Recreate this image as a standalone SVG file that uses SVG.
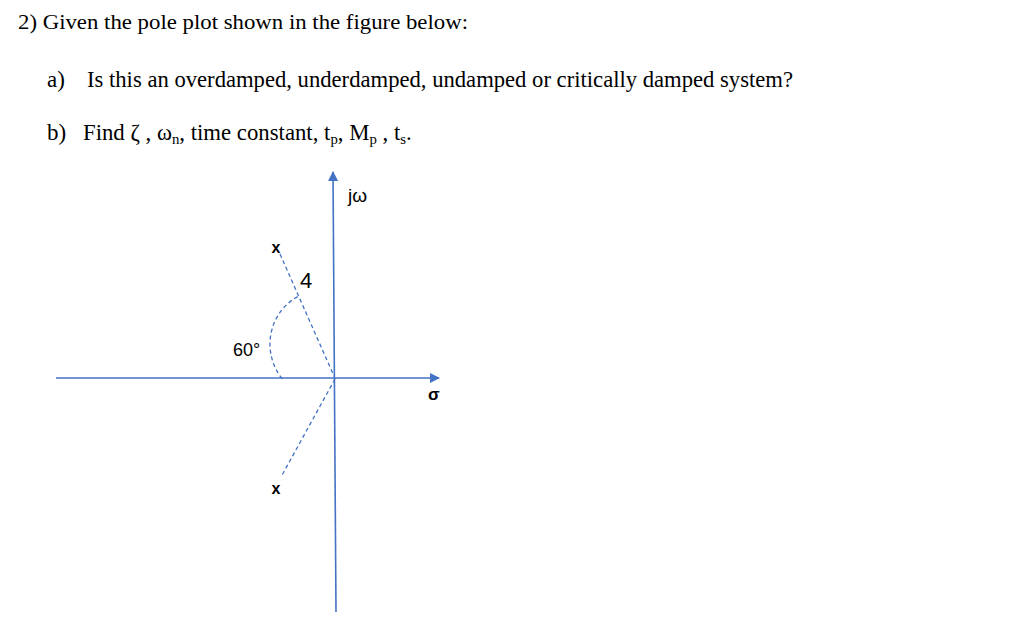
<svg xmlns="http://www.w3.org/2000/svg" width="1024" height="624" viewBox="0 0 1024 624">
<style>
.t{font-family:"Liberation Serif","Times New Roman",serif;fill:#000}
.s{font-family:"Liberation Sans",Arial,sans-serif;fill:#000}
.ax{stroke:#4472C4;stroke-width:1.6;fill:none}
.d{stroke:#4472C4;stroke-width:1.3;fill:none;stroke-dasharray:4 3}
</style>
<defs>
<marker id="ah" markerWidth="10" markerHeight="10" refX="9" refY="5" orient="auto" markerUnits="userSpaceOnUse">
<path d="M0,0 L10,5 L0,10 Z" fill="#4472C4"/>
</marker>
</defs>
<rect width="1024" height="624" fill="#fff"/>
<g id="question">
<text class="t" x="18" y="29" font-size="21" textLength="450" lengthAdjust="spacingAndGlyphs">2) Given the pole plot shown in the figure below:</text>
<text class="t" x="47" y="87" font-size="23">a)</text>
<text class="t" x="87" y="87" font-size="23" textLength="706" lengthAdjust="spacingAndGlyphs">Is this an overdamped, underdamped, undamped or critically damped system?</text>
<text class="t" x="47" y="140" font-size="23">b)</text>
<g transform="translate(83,140) scale(0.99,1)">
<text class="t" x="0" y="0" font-size="23">Find ζ , ω<tspan font-size="15" dy="4">n</tspan><tspan dy="-4">, time constant, t</tspan><tspan font-size="15" dy="4">p</tspan><tspan dy="-4">, M</tspan><tspan font-size="15" dy="4">p</tspan><tspan dy="-4"> , t</tspan><tspan font-size="15" dy="4">s</tspan><tspan dy="-4">.</tspan></text>
</g>
</g>
<g id="connectors">
<line class="ax" x1="56" y1="378" x2="439" y2="378" marker-end="url(#ah)"/>
<line class="ax" x1="336" y1="612" x2="333" y2="172" marker-end="url(#ah)"/>
<line class="d" x1="280" y1="254" x2="334" y2="376"/>
<line class="d" x1="335" y1="379" x2="281" y2="477"/>
<path class="d" d="M297.7,296.7 C280,306 269,326 270,347 C271,361 276,371 282.3,379"/>
</g>
<g id="labels">
<text class="s" x="348" y="202" font-size="19">jω</text>
<text class="s" x="428" y="400" font-size="17" font-weight="bold">σ</text>
<text class="s" x="276" y="253" font-size="16" font-weight="bold" text-anchor="middle">x</text>
<text class="s" x="276" y="494" font-size="16" font-weight="bold" text-anchor="middle">x</text>
<text class="s" x="300" y="288" font-size="22">4</text>
<text class="s" x="233" y="356" font-size="18">60°</text>
</g>
</svg>
